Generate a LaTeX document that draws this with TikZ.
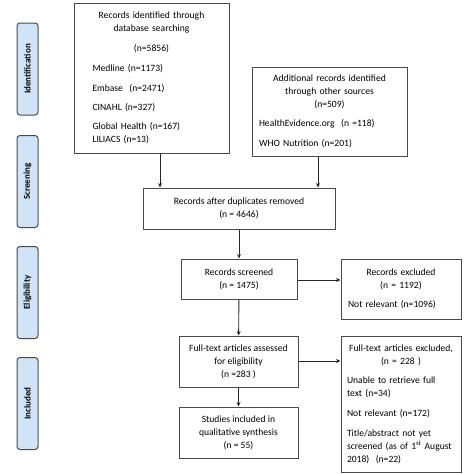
\documentclass[tikz,border=0pt]{standalone}
\usepackage{fontspec}
\setmainfont{Carlito}
\usetikzlibrary{arrows.meta}
\definecolor{stagefill}{HTML}{CFE5F7}
\definecolor{boxline}{HTML}{4A4A4A}

\begin{document}
\begin{tikzpicture}[
	x=1pt, y=-1pt,
	box/.style={draw=boxline, line width=1pt, fill=white, inner xsep=0pt, inner ysep=0pt,
		font=\fontsize{9.6}{13}\selectfont},
	stage/.style={draw=boxline, line width=1pt, fill=stagefill, rounded corners=3pt,
		rotate=90, minimum width=92, minimum height=21, inner sep=0pt,
		font=\fontsize{9}{10}\selectfont\bfseries},
	flow/.style={-{Stealth[length=4.5pt,width=4pt]}, line width=0.9pt, draw=black!85}]
\useasboundingbox (0,0) rectangle (474,474);

\node[stage] (ident) at (27.5,69) {Identification};
\node[stage] (screen) at (27.5,181.5) {Screening};
\node[stage] (elig) at (27.5,292.5) {Eligibility};
\node[stage] (inclst) at (27.5,403.5) {Included};

\node[box, minimum width=155, minimum height=150, text width=118] (db) at (151.5,78)
	{{\centering Records identified through\\ database searching\\[7pt] (n=5856)\par}\vspace{7pt}
	\raggedright Medline (n=1173)\\[7pt] Embase\ \ (n=2471)\\[6pt] CINAHL (n=327)\\[6pt]
	Global Health (n=167)\\ LILIACS (n=13)};
\node[box, minimum width=155, minimum height=89, text width=141] (other) at (329.5,111.5)
	{{\centering Additional records identified\\ through other sources\\ (n=509)\par}\vspace{6pt}
	\raggedright HealthEvidence.org\ \ (n =118)\\[7pt] WHO Nutrition (n=201)};
\node[box, minimum width=192, minimum height=41, align=center] (dup) at (239,208.5)
	{Records after duplicates removed\\ (n = 4646)};
\node[box, minimum width=116, minimum height=40, align=center] (screened) at (239,279)
	{Records screened\\ (n = 1475)};
\node[box, minimum width=120, minimum height=60, text width=106] (excl) at (401,289)
	{{\centering Records excluded\\ (n = 1192)\par}\vspace{6pt}
	\raggedright Not relevant (n=1096)};
\node[box, minimum width=119, minimum height=51, align=center] (full) at (238.5,361.5)
	{Full-text articles assessed\\ for eligibility\\ (n =283 )};
\node[box, minimum width=119, minimum height=51, align=center] (incl) at (238.5,432.5)
	{Studies included in\\ qualitative synthesis\\ (n = 55)};
\node[box, minimum width=120, minimum height=136, text width=108] (fullexcl) at (401,404)
	{{\centering Full-text articles excluded,\\ (n = 228 )\par}\vspace{6pt}
	\raggedright Unable to retrieve full\\ text (n=34)\\[7pt] Not relevant (n=172)\\[7pt]
	Title/abstract not yet\\ screened (as of 1\textsuperscript{st} August\\ 2018)\ \ (n=22)};

\draw[flow] (db.south -| 160,0) -- (dup.north -| 160,0);
\draw[flow] (other.south -| 318,0) -- (dup.north -| 318,0);
\draw[flow] (dup) -- (screened);
\draw[flow] (screened.east |- 0,280) -- (excl.west |- 0,280);
\draw[flow] (screened) -- (full);
\draw[flow] (full.east |- 0,361) -- (fullexcl.west |- 0,361);
\draw[flow] (full) -- (incl);
\end{tikzpicture}
\end{document}
